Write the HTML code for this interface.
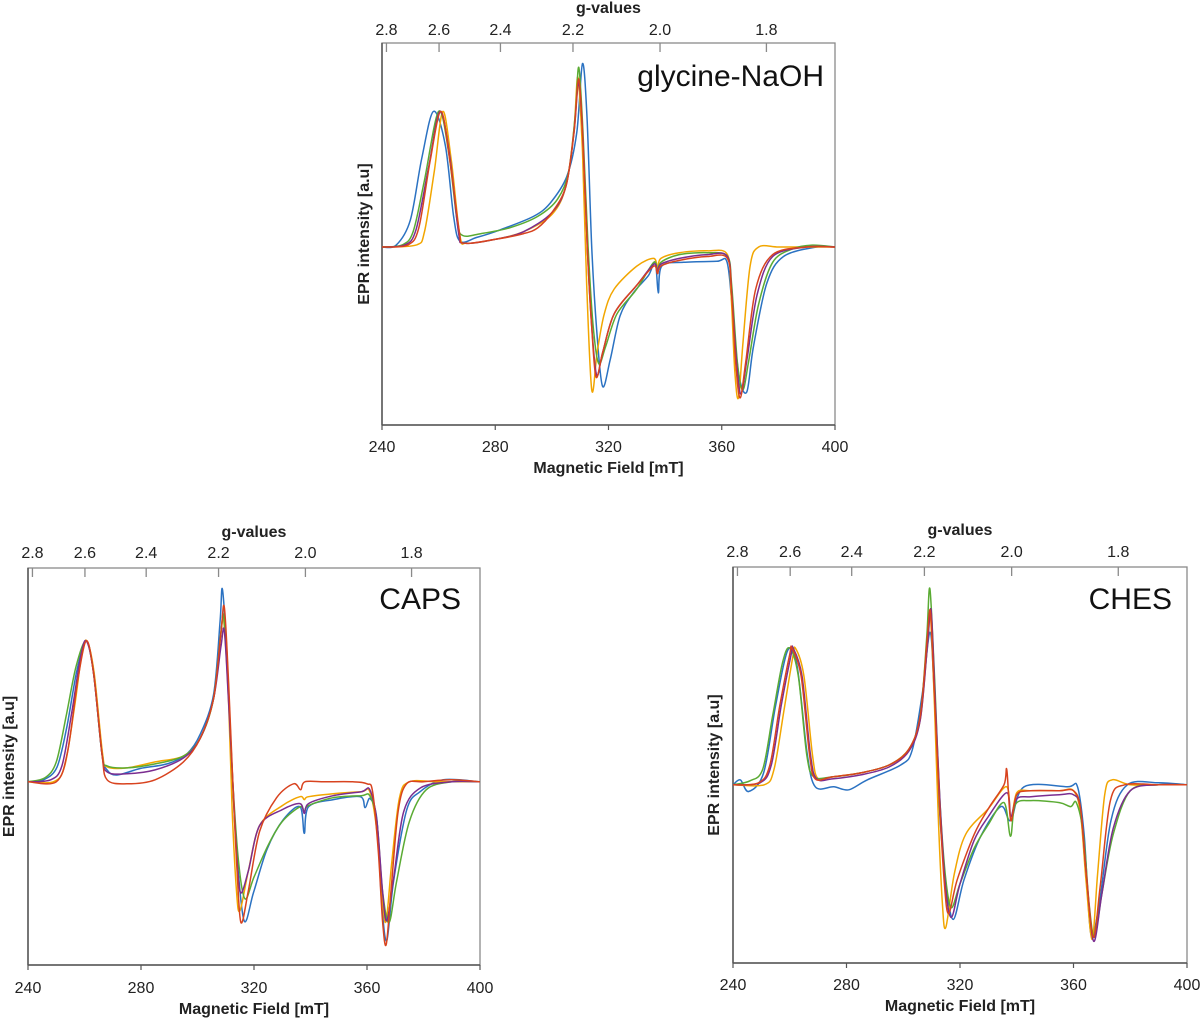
<!DOCTYPE html>
<html><head><meta charset="utf-8"><style>
html,body{margin:0;padding:0;background:#fff;}
svg{display:block;font-family:"Liberation Sans",Arial,sans-serif;}
</style></head><body>
<svg id="chart" width="1200" height="1020" viewBox="0 0 1200 1020" xmlns="http://www.w3.org/2000/svg"></svg>
<script>
// ---- data (field in mT, intensity in a.u.) ----
const seriesNames = ["blue","orange","green","purple","red"];
const seriesColors = {blue:"#2b72c2",orange:"#f2a600",green:"#5aab33",purple:"#7b2d90",red:"#d8431f"};
const fieldTicks = [240,280,320,360,400];
const gTicks = [2.8,2.6,2.4,2.2,2.0,1.8];
const gTickLabels = ["2.8","2.6","2.4","2.2","2.0","1.8"];
const gConst = 676.4;

// glycine-NaOH
const glyBlueF = [240,245,250,254,258.2,262.4,265.3,267.6,273.5,281.8,293.5,299.4,305.3,308.8,310.8,312.4,314.1,315.9,317.9,320.6,324.1,328.8,334.1,336.5,337.6,338.8,346.5,358.2,361.8,363.5,365.9,368.8,371.2,375.9,381.8,393.5,400];
const glyBlueV = [0,1,14,46,71,53,16,3,5,9,16,23,37,60,96,68,-1,-45,-73,-59,-36,-24,-15,-8,-24,-10,-8,-7.5,-7.5,-28,-66,-76,-52,-19,-5,0,0];
const glyGreenF = [240,247,251,255,260,263.5,266.5,268.5,275,285,295,302,306,308.3,309.5,311,312.8,314.5,316.5,319,323,330,336,337.3,338.5,345,355,362,363.5,365.5,367.4,369.5,373,378,385,392,400];
const glyGreenV = [0,1,8,35,71,50,14,6,7,10,16,25,40,70,94,60,0,-40,-61,-52,-35,-22,-8,-13,-8,-4,-3,-5,-20,-60,-75,-60,-30,-8,-1,1,0];
const glyRedF = [240,249,253,257,260.8,264,267.3,269,280,290,295,300,305,307.8,309.5,311,312.5,314,315.6,318,322,330,336,337.3,338.5,345,355,362,363.5,365,366.5,368.5,372,378,390,400];
const glyRedV = [0,1,10,45,71,45,8,2,4,7,10,18,32,60,88,55,0,-40,-68,-55,-35,-20,-10,-14,-10,-7,-5,-6,-25,-62,-79,-60,-22,-4,0,0];
const glyPurpleF = [240,248,252,256.5,260.5,264,267,269,280,290,300,305,307.8,309.5,311,312.5,314,315.8,318,322,330,336,337.3,338.5,345,355,362,363.5,365.2,366.8,369,372.5,378,390,400];
const glyPurpleV = [0,1,9,42,71,47,8,2,4,8,18,32,60,86,55,0,-40,-67,-55,-35,-20,-9,-13,-9,-6,-4,-5,-24,-60,-77,-58,-25,-5,0,0];
const glyOrangeF = [240,252,255,258.5,261.5,264.5,267.5,270,280,290,300,305,307.8,309.2,310.8,312.3,314.1,316,318.5,322,330,336,337.3,338.5,345,355,362,363.3,364.6,365.9,367.5,370,373,380,390,400];
const glyOrangeV = [0,1,8,40,71,45,6,2,4,8,17,32,62,89,50,-20,-75,-55,-35,-22,-10,-6,-11,-6,-3,-2,-4,-25,-65,-79,-50,-10,0,0,0,0];

// CAPS
const capsBlueF = [240,245.5,250.3,253.8,257.3,260.6,263.2,266.2,268,271.5,279.7,289.2,296.2,301,305.7,308,308.8,310.4,312.2,313.9,316.5,319.8,324.6,330.4,336.3,337.8,339.3,348.1,357.6,359.3,361.1,363.5,365.2,367,369.4,374.1,378.8,387,400];
const capsBlueV = [0,1,7.5,28,56,71,55,14,6,3.4,6.7,9,14,24,44,81,97,65,6,-36,-70,-56,-34,-19,-12.6,-26,-12.6,-9,-7.5,-13,-8.4,-19,-61,-80,-50,-14,-5,1,0];
const capsRedF = [240,250,254,257.5,260.6,263.2,266.2,268,275,285,295,301,305.7,308.3,309.5,311,312.5,314,315.4,318,322,328,334,336.5,338,345,355,360,362,364,365.5,366.8,368.5,371,374,380,390,400];
const capsRedV = [0,0,15,50,71,55,14,1,-1,1,10,22,42,75,88,50,0,-45,-71,-55,-25,-8,-1,-4,0,0,0,-1,-5,-35,-70,-82,-55,-15,-1,0,1,0];
const capsGreenF = [240,246,250,253.5,257,260.6,263.2,266.2,268,275,285,295,301,305.7,308.3,309.3,311,312.5,314.5,316.8,320,325,330,336.3,337.8,339.3,348,358,361,363.5,365.5,367.8,370.5,375,381,390,400];
const capsGreenV = [0,2,10,33,58,71,55,14,8,7,9,13,22,42,75,83,45,0,-40,-59,-48,-32,-20,-12.6,-15,-12,-8,-7,-7,-20,-55,-71,-50,-20,-4,0,0];
const capsPurpleF = [240,248,252,255.5,258.5,260.6,263.2,266.2,268,275,285,295,301,305.7,308.3,309.5,311,312.5,314,315.3,318,322,330,336.3,337.8,339.3,348,358,361,363.5,365.5,367,369.5,373,379,390,400];
const capsPurpleV = [0,1,8,35,62,71,55,14,5,4,6,12,22,42,68,76,40,0,-40,-56,-45,-22,-14,-11,-16,-11,-7,-5,-4,-20,-55,-70,-48,-15,-3,0,0];
const capsOrangeF = [240,249,253,256.5,259,260.8,263.4,266.4,268,275,285,295,301,305.7,308.3,309.3,311,312.3,313.8,315,318,322,330,336.3,337.8,339.3,348,358,361,363.5,365.5,366.8,368.8,371.5,375,385,400];
const capsOrangeV = [0,0,8,38,64,71,55,14,7.5,7,10,13,22,42,75,81,40,-15,-55,-65,-45,-22,-12,-7.5,-9,-7.5,-6,-5,-5,-25,-60,-70,-40,-8,0,0,0];

// CHES
const chesBlueF = [240,242.6,245.5,250.8,255,259.3,262.6,266.1,269,275.5,280.8,287.3,299.1,303.2,306.7,309.4,310.8,312.6,314.9,317.6,321.4,327.3,334.4,337.9,342.6,357.9,361.4,363.8,366.1,369.1,373.2,379,390,400];
const chesBlueV = [0,2.5,-3.4,6,40,68,60,16,-1,-1,-2.5,2.5,10,17.7,46,77,50,-9,-48,-68,-48,-26,-11,-18,-1,-1,-1,-26,-75,-60,-18,0,1,0];
const chesGreenF = [240,246,250.5,254,257.5,260,263,266,268.5,275,285,295,302,306,308.3,309.4,311,312.8,314.8,316.9,320,325,330,335.5,337.8,339.5,345,355,359,361,363.5,365.5,367.4,370,374,380,390,400];
const chesGreenV = [0,2,8,35,62,69,55,15,4,4,6,10,18,35,75,99,55,-5,-45,-62,-50,-32,-20,-9,-26,-10,-8,-9,-11,-9,-25,-60,-77,-55,-25,-3,0,0];
const chesRedF = [240,249,253,256.5,260,260.8,264,267,269,275,285,295,302,306,308.5,309.6,311,312.8,314.5,316,319,325,330,335.5,336.5,337.9,340,345,355,360,362.5,364.5,367,369.5,373,378,390,400];
const chesRedV = [0,1,10,40,66,69,55,15,3,4,6,10,18,35,75,87,45,-10,-50,-65,-48,-25,-12,0,7.6,-18,-5,-3,-3,-3,-12,-45,-77,-50,-8,0,0,0];
const chesPurpleF = [240,249.5,253.5,257,260.5,261.2,264.3,267.3,269.5,275,285,295,302,306,308.6,309.8,311.2,313,314.8,316.9,320,325,330,336.5,337.9,340,345,355,360,362.5,364.5,367.1,370,374,380,390,400];
const chesPurpleV = [0,1,10,40,66,69,55,15,3,3,5,9,17,33,72,88,45,-10,-50,-67,-50,-28,-16,-4,-16,-7,-6,-5,-5,-12,-45,-79,-55,-22,-3,0,0];
const chesOrangeF = [240,251,254.5,258,261,262,265,268,270,275,285,295,302,306,308.5,309.6,311,312.3,313.8,315,318,322,330,336.5,337.9,340,345,355,360,362.5,364.5,366.6,368.5,371,373.5,380,390,400];
const chesOrangeV = [0,0,8,38,64,69,55,15,3,4,6,10,18,33,70,85,40,-15,-60,-72,-45,-25,-12,-1,-18,-4,-3,-3,-3,-15,-50,-78,-45,-5,2.5,0,0,0];

const panels = [
 {id:"glycine-naoh", label:"glycine-NaOH", x0:382,x1:835,y0:43,y1:425,yMin:-93.2,yMax:106.8,labelX:824,labelY:86,
  gTitleY:13,gLabY:35,tickLabY:452,titleY:473,yTitleX:369,
  series:{blue:[glyBlueF,glyBlueV],orange:[glyOrangeF,glyOrangeV],green:[glyGreenF,glyGreenV],purple:[glyPurpleF,glyPurpleV],red:[glyRedF,glyRedV]}},
 {id:"caps", label:"CAPS", x0:28,x1:480,y0:568,y1:965,yMin:-92.3,yMax:107.7,labelX:461,labelY:609,
  gTitleY:537,gLabY:558,tickLabY:993,titleY:1014,yTitleX:14,
  series:{blue:[capsBlueF,capsBlueV],orange:[capsOrangeF,capsOrangeV],green:[capsGreenF,capsGreenV],purple:[capsPurpleF,capsPurpleV],red:[capsRedF,capsRedV]}},
 {id:"ches", label:"CHES", x0:733,x1:1187,y0:567,y1:963,yMin:-90,yMax:110,labelX:1172,labelY:609,
  gTitleY:535,gLabY:557,tickLabY:990,titleY:1011,yTitleX:719,
  series:{blue:[chesBlueF,chesBlueV],orange:[chesOrangeF,chesOrangeV],green:[chesGreenF,chesGreenV],purple:[chesPurpleF,chesPurpleV],red:[chesRedF,chesRedV]}}
];

const NS="http://www.w3.org/2000/svg";
const svg=document.getElementById("chart");
function mk(tag,attrs,parent){const e=document.createElementNS(NS,tag);for(const k in attrs)e.setAttribute(k,attrs[k]);(parent||svg).appendChild(e);return e;}

panels.forEach(p=>{
  const g=mk("g",{});
  
  
  const xs=f=>p.x0+(f-240)/160*(p.x1-p.x0);
  const ys=v=>p.y1-(v-p.yMin)/(p.yMax-p.yMin)*(p.y1-p.y0);
  const fr=mk("rect",{x:p.x0,y:p.y0,width:p.x1-p.x0,height:p.y1-p.y0,fill:"none",stroke:"#8a8a8a","stroke-width":1.3},g);
  
  
  const la=mk("line",{x1:p.x0,y1:p.y0,x2:p.x0,y2:p.y1,stroke:"#555","stroke-width":1.5},g);
  
  
  const ba=mk("line",{x1:p.x0,y1:p.y1,x2:p.x1,y2:p.y1,stroke:"#555","stroke-width":1.5},g);
  
  
  fieldTicks.forEach(t=>{
    mk("line",{x1:xs(t),y1:p.y1,x2:xs(t),y2:p.y1+5,stroke:"#555","stroke-width":1.2},g);
    const tl=mk("text",{x:xs(t),y:p.tickLabY,"font-size":16,"text-anchor":"middle",fill:"#222"},g);
    tl.textContent=t;
    
    
  });
  gTicks.forEach((gv,i)=>{
    const x=xs(gConst/gv);
    mk("line",{x1:x,y1:p.y0,x2:x,y2:p.y0+9,stroke:"#8a8a8a","stroke-width":1.3},g);
    const tl=mk("text",{x:x,y:p.gLabY,"font-size":16,"text-anchor":"middle",fill:"#222"},g);
    tl.textContent=gTickLabels[i];
    
    
  });
  const cx=(p.x0+p.x1)/2, cy=(p.y0+p.y1)/2;
  const gt=mk("text",{x:cx,y:p.gTitleY,"font-size":16,"font-weight":"bold","text-anchor":"middle",fill:"#222"},g);
  gt.textContent="g-values";
  
  
  const xt=mk("text",{x:cx,y:p.titleY,"font-size":16,"font-weight":"bold","text-anchor":"middle",fill:"#222"},g);
  xt.textContent="Magnetic Field [mT]";
  
  
  const yt=mk("text",{x:p.yTitleX,y:cy,"font-size":16,"font-weight":"bold","text-anchor":"middle",fill:"#222",transform:`rotate(-90 ${p.yTitleX} ${cy})`},g);
  yt.textContent="EPR intensity [a.u]";
  
  
  const pl=mk("text",{x:p.labelX,y:p.labelY,"font-size":30,"text-anchor":"end",fill:"#111"},g);
  pl.textContent=p.label;
  
  
  seriesNames.forEach(n=>{
    const [F,V]=p.series[n];
    const pts=F.map((f,i)=>[xs(f),ys(V[i])]);
    let d="M"+pts[0][0].toFixed(1)+","+pts[0][1].toFixed(1);
    for(let i=0;i<pts.length-1;i++){
      const p0=pts[Math.max(0,i-1)],p1=pts[i],p2=pts[i+1],p3=pts[Math.min(pts.length-1,i+2)];
      const t=0.16;
      const c1=[p1[0]+(p2[0]-p0[0])*t,p1[1]+(p2[1]-p0[1])*t];
      const c2=[p2[0]-(p3[0]-p1[0])*t,p2[1]-(p3[1]-p1[1])*t];
      d+=`C${c1[0].toFixed(1)},${c1[1].toFixed(1)} ${c2[0].toFixed(1)},${c2[1].toFixed(1)} ${p2[0].toFixed(1)},${p2[1].toFixed(1)}`;
    }
    const path=mk("path",{d:d,fill:"none",stroke:seriesColors[n],"stroke-width":1.5,"stroke-linejoin":"round"},g);
    
    
  });
});
</script>
</body></html>
